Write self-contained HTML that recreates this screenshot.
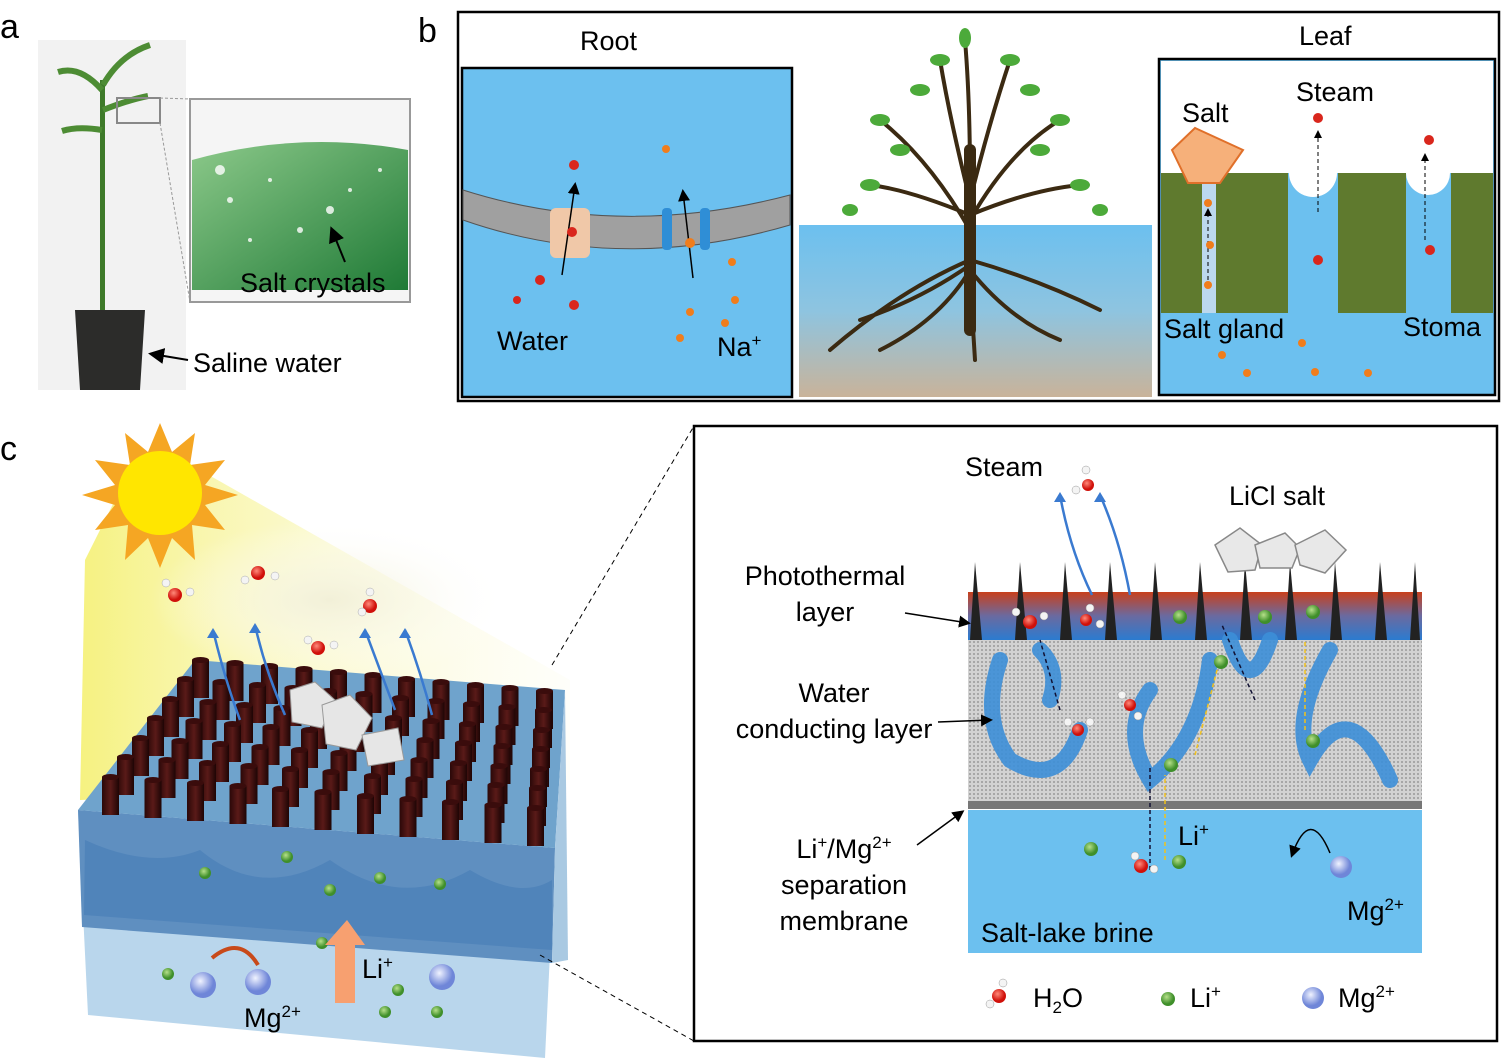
<!DOCTYPE html>
<html><head><meta charset="utf-8"><style>
body{margin:0;background:#fff}
svg{display:block;font-family:"Liberation Sans",Arial,sans-serif}
</style></head><body>
<svg width="1501" height="1058" viewBox="0 0 1501 1058" xmlns="http://www.w3.org/2000/svg">
<defs>
<linearGradient id="soil" x1="0" y1="0" x2="0" y2="1"><stop offset="0" stop-color="#6cc0ef"/><stop offset="0.5" stop-color="#8ec4e0"/><stop offset="1" stop-color="#c9b39a"/></linearGradient>
<linearGradient id="photo" x1="0" y1="0" x2="0" y2="1"><stop offset="0" stop-color="#c8401c"/><stop offset="0.5" stop-color="#6a6aa0"/><stop offset="1" stop-color="#2b7bd0"/></linearGradient>
<linearGradient id="sunray" x1="0" y1="0" x2="1" y2="0"><stop offset="0" stop-color="#f4ef6a"/><stop offset="1" stop-color="#fbfae0" stop-opacity="0.2"/></linearGradient>
<linearGradient id="leafg" x1="0" y1="0" x2="1" y2="1"><stop offset="0" stop-color="#8cc98a"/><stop offset="1" stop-color="#1f7a36"/></linearGradient>
<linearGradient id="pil" x1="0" y1="0" x2="1" y2="0"><stop offset="0" stop-color="#2a0808"/><stop offset="0.5" stop-color="#5a1a18"/><stop offset="1" stop-color="#1e0505"/></linearGradient>
<pattern id="dots" width="4" height="4" patternUnits="userSpaceOnUse"><rect width="4" height="4" fill="#d2d2d2"/><circle cx="2" cy="2" r="1" fill="#9a9a9a"/></pattern>
<marker id="ar" markerWidth="8" markerHeight="8" refX="6" refY="4" orient="auto"><path d="M0,0 L8,4 L0,8 z" fill="#000"/></marker>
<radialGradient id="mg" cx="0.4" cy="0.35"><stop offset="0" stop-color="#f0f3ff"/><stop offset="1" stop-color="#6f86d8"/></radialGradient>
<radialGradient id="li" cx="0.4" cy="0.35"><stop offset="0" stop-color="#b6e08a"/><stop offset="1" stop-color="#3f8f2a"/></radialGradient>
<radialGradient id="h2o" cx="0.4" cy="0.35"><stop offset="0" stop-color="#ff8a7a"/><stop offset="1" stop-color="#d0100a"/></radialGradient>
<radialGradient id="glow" cx="0.5" cy="0.5" r="0.5"><stop offset="0" stop-color="#f2f0d8"/><stop offset="1" stop-color="#fff" stop-opacity="0"/></radialGradient>
<g id="p"><rect x="0" y="0" width="17" height="38" fill="url(#pil)"/><ellipse cx="8.5" cy="0" rx="8.5" ry="3" fill="#3a0c0c"/></g>
</defs>

<!-- panel a -->
<text x="0" y="38" font-size="34">a</text>
<rect x="38" y="40" width="148" height="350" fill="#f2f2f2"/>
<rect x="100" y="80" width="5" height="235" fill="#3e7a2a"/>
<path d="M102,90 Q80,65 58,72 M103,110 Q128,100 148,96 M102,130 Q78,126 62,131 M103,85 Q120,55 150,45" stroke="#4d8c34" stroke-width="6" fill="none"/>
<path d="M75,310 L145,310 L140,390 L80,390 Z" fill="#2c2c2a"/>
<rect x="117" y="98" width="43" height="25" fill="none" stroke="#888" stroke-width="2"/>
<line x1="160" y1="98" x2="190" y2="99" stroke="#999" stroke-dasharray="3,2"/>
<line x1="160" y1="123" x2="190" y2="302" stroke="#999" stroke-dasharray="3,2"/>
<rect x="190" y="99" width="220" height="203" fill="#f5f5f5" stroke="#999" stroke-width="2"/>
<path d="M192,160 Q300,130 408,150 L408,290 L192,290 Z" fill="url(#leafg)"/>
<g fill="#fff" opacity="0.8"><circle cx="230" cy="200" r="3"/><circle cx="270" cy="180" r="2"/><circle cx="300" cy="230" r="3"/><circle cx="350" cy="190" r="2"/><circle cx="330" cy="210" r="4"/><circle cx="380" cy="170" r="2"/><circle cx="250" cy="240" r="2"/><circle cx="220" cy="170" r="5"/></g>
<line x1="345" y1="262" x2="332" y2="230" stroke="#000" stroke-width="2" marker-end="url(#ar)"/>
<text x="240" y="292" font-size="27">Salt crystals</text>
<line x1="188" y1="360" x2="152" y2="354" stroke="#000" stroke-width="2" marker-end="url(#ar)"/>
<text x="193" y="372" font-size="27">Saline water</text>

<!-- panel b -->
<text x="418" y="42" font-size="34">b</text>
<rect x="458" y="12" width="1041" height="389" fill="none" stroke="#000" stroke-width="2.5"/>
<text x="580" y="50" font-size="27">Root</text>
<rect x="462" y="68" width="330" height="329" fill="#6cc0ef" stroke="#000" stroke-width="2.5"/>
<path d="M463,190 Q620,240 790,195 L790,225 Q620,275 463,220 Z" fill="#a0a0a0" stroke="#555"/>
<rect x="550" y="208" width="40" height="50" rx="6" fill="#f0c8a8"/>
<rect x="662" y="208" width="10" height="42" rx="4" fill="#2f8ed6"/><rect x="700" y="208" width="10" height="42" rx="4" fill="#2f8ed6"/>
<line x1="562" y1="275" x2="575" y2="185" stroke="#000" stroke-width="1.5" marker-end="url(#ar)"/>
<line x1="693" y1="278" x2="683" y2="192" stroke="#000" stroke-width="1.5" marker-end="url(#ar)"/>
<g fill="#d9261c"><circle cx="574" cy="165" r="5"/><circle cx="572" cy="232" r="5"/><circle cx="540" cy="280" r="5"/><circle cx="517" cy="300" r="4"/><circle cx="574" cy="305" r="5"/></g>
<g fill="#f07d1c"><circle cx="666" cy="149" r="4"/><circle cx="690" cy="243" r="5"/><circle cx="732" cy="262" r="4"/><circle cx="735" cy="300" r="4"/><circle cx="690" cy="312" r="4"/><circle cx="725" cy="323" r="4"/><circle cx="680" cy="338" r="4"/></g>
<text x="497" y="350" font-size="27">Water</text>
<text x="717" y="356" font-size="27">Na<tspan font-size="17" dy="-10">+</tspan></text>
<rect x="799" y="225" width="353" height="172" fill="url(#soil)"/>
<g stroke="#3b2a12" fill="none" stroke-linecap="round">
<path d="M970,330 L970,150" stroke-width="12"/>
<path d="M970,230 Q930,160 880,120 M970,220 Q1010,150 1060,120 M970,200 Q950,120 940,60 M970,200 Q990,120 1010,60 M970,180 Q970,100 965,40 M970,215 Q910,190 870,185 M970,215 Q1030,190 1080,185" stroke-width="4"/>
<path d="M970,260 Q900,290 830,350 M970,260 Q1040,280 1100,310 M970,270 Q940,320 880,350 M970,270 Q1010,320 1060,340 M970,280 L975,360 M970,265 Q920,300 860,320" stroke-width="4"/>
</g>
<g fill="#4caa3a"><ellipse cx="880" cy="120" rx="10" ry="6"/><ellipse cx="1060" cy="120" rx="10" ry="6"/><ellipse cx="940" cy="60" rx="10" ry="6"/><ellipse cx="1010" cy="60" rx="10" ry="6"/><ellipse cx="965" cy="38" rx="6" ry="10"/><ellipse cx="900" cy="150" rx="10" ry="6"/><ellipse cx="1040" cy="150" rx="10" ry="6"/><ellipse cx="870" cy="185" rx="10" ry="6"/><ellipse cx="1080" cy="185" rx="10" ry="6"/><ellipse cx="920" cy="90" rx="10" ry="6"/><ellipse cx="1030" cy="90" rx="10" ry="6"/><ellipse cx="850" cy="210" rx="8" ry="6"/><ellipse cx="1100" cy="210" rx="8" ry="6"/></g>
<text x="1299" y="45" font-size="27">Leaf</text>
<rect x="1159" y="59" width="336" height="336" fill="#6cc0ef" stroke="#000" stroke-width="2.5"/>
<rect x="1161" y="61" width="332" height="112" fill="#fff"/>
<rect x="1161" y="173" width="127" height="140" fill="#5f7a2e"/>
<rect x="1338" y="173" width="68" height="140" fill="#5f7a2e"/>
<rect x="1451" y="173" width="42" height="140" fill="#5f7a2e"/>
<rect x="1202" y="173" width="14" height="140" fill="#bcd8ee"/>
<circle cx="1313" cy="173" r="24" fill="#fff"/><circle cx="1428" cy="173" r="22" fill="#fff"/>
<path d="M1172,150 L1195,128 L1243,150 L1220,183 L1188,183 Z" fill="#f6b07a" stroke="#e0702a" stroke-width="2"/>
<line x1="1208" y1="280" x2="1208" y2="210" stroke="#000" stroke-dasharray="4,3" marker-end="url(#ar)"/>
<line x1="1318" y1="212" x2="1318" y2="132" stroke="#000" stroke-dasharray="4,3" marker-end="url(#ar)"/>
<line x1="1425" y1="240" x2="1425" y2="155" stroke="#000" stroke-dasharray="4,3" marker-end="url(#ar)"/>
<g fill="#d9261c"><circle cx="1318" cy="118" r="5"/><circle cx="1429" cy="140" r="5"/><circle cx="1318" cy="260" r="5"/><circle cx="1430" cy="250" r="5"/></g>
<g fill="#f07d1c"><circle cx="1208" cy="203" r="4"/><circle cx="1210" cy="245" r="4"/><circle cx="1208" cy="285" r="4"/><circle cx="1302" cy="343" r="4"/><circle cx="1222" cy="355" r="4"/><circle cx="1247" cy="373" r="4"/><circle cx="1315" cy="372" r="4"/><circle cx="1368" cy="373" r="4"/></g>
<text x="1182" y="122" font-size="27">Salt</text>
<text x="1296" y="101" font-size="27">Steam</text>
<text x="1164" y="338" font-size="27">Salt gland</text>
<text x="1403" y="336" font-size="27">Stoma</text>

<!-- panel c left -->
<text x="0" y="460" font-size="34">c</text>
<path d="M130,470 L200,470 L570,680 L570,780 L80,800 L85,560 Z" fill="url(#sunray)" opacity="0.85"/>
<ellipse cx="330" cy="600" rx="180" ry="80" fill="url(#glow)"/>
<polygon points="160,423 172,452 195,433 190,465 225,460 205,485 238,495 205,505 225,530 192,525 195,560 172,538 160,568 148,538 125,560 128,525 95,530 115,505 82,495 115,485 95,460 130,465 125,433 148,452" fill="#f5a623"/>
<circle cx="160" cy="493" r="42" fill="#ffe600"/>
<!-- block -->
<path d="M78,810 L555,848 L545,1058 L88,1015 Z" fill="#b9d6ec"/>
<path d="M78,810 L555,848 L552,963 L82,927 Z" fill="#5f8fc0"/>
<path d="M78,810 L195,660 L565,690 L555,848 Z" fill="#6fa3cc"/>
<path d="M555,848 L565,690 L568,960 L552,963 Z" fill="#a9c9e2"/>
<path d="M85,840 Q150,870 200,850 Q260,900 330,860 Q400,910 470,870 Q520,900 552,880 L552,950 L84,915 Z" fill="#4a7fb8" opacity="0.7"/>
<!-- pillars: back rows first -->
<g>
<use href="#p" x="192" y="660"/><use href="#p" x="226.5" y="663"/><use href="#p" x="261" y="666"/><use href="#p" x="295.5" y="669"/><use href="#p" x="330" y="672"/><use href="#p" x="364.5" y="675"/><use href="#p" x="398" y="679"/><use href="#p" x="432.5" y="682"/><use href="#p" x="467" y="685"/><use href="#p" x="501.5" y="688"/><use href="#p" x="536" y="691"/>
<use href="#p" x="177" y="679"/><use href="#p" x="212.5" y="682"/><use href="#p" x="249" y="685"/><use href="#p" x="284.5" y="688"/><use href="#p" x="320" y="691"/><use href="#p" x="355.5" y="694"/><use href="#p" x="392" y="698"/><use href="#p" x="427.5" y="701"/><use href="#p" x="463" y="704"/><use href="#p" x="498.5" y="707"/><use href="#p" x="535" y="710"/>
<use href="#p" x="162" y="699"/><use href="#p" x="199.5" y="702"/><use href="#p" x="236" y="705"/><use href="#p" x="273.5" y="708"/><use href="#p" x="310" y="711"/><use href="#p" x="347.5" y="714"/><use href="#p" x="385" y="718"/><use href="#p" x="422.5" y="721"/><use href="#p" x="459" y="724"/><use href="#p" x="495.5" y="727"/><use href="#p" x="533" y="730"/>
<use href="#p" x="147" y="718"/><use href="#p" x="185.5" y="721"/><use href="#p" x="224" y="724"/><use href="#p" x="262.5" y="727"/><use href="#p" x="301" y="730"/><use href="#p" x="339.5" y="733"/><use href="#p" x="378" y="737"/><use href="#p" x="416.5" y="740"/><use href="#p" x="455" y="743"/><use href="#p" x="493.5" y="746"/><use href="#p" x="532" y="749"/>
<use href="#p" x="132" y="738"/><use href="#p" x="171.5" y="741"/><use href="#p" x="212" y="744"/><use href="#p" x="251.5" y="747"/><use href="#p" x="291" y="750"/><use href="#p" x="330.5" y="753"/><use href="#p" x="371" y="757"/><use href="#p" x="410.5" y="760"/><use href="#p" x="450" y="763"/><use href="#p" x="490.5" y="766"/><use href="#p" x="530" y="769"/>
<use href="#p" x="117" y="757"/><use href="#p" x="158.5" y="760"/><use href="#p" x="199" y="763"/><use href="#p" x="240.5" y="766"/><use href="#p" x="282" y="769"/><use href="#p" x="322.5" y="772"/><use href="#p" x="364" y="776"/><use href="#p" x="405.5" y="779"/><use href="#p" x="446" y="782"/><use href="#p" x="487.5" y="785"/><use href="#p" x="529" y="788"/>
</g>
<g fill="#e6e6e6" stroke="#999"><path d="M290,690 L315,682 L335,700 L322,728 L292,722Z"/><path d="M322,705 L350,695 L372,718 L356,750 L326,744Z"/><path d="M362,735 L398,728 L404,760 L368,766Z"/></g>
<g>
<use href="#p" x="102" y="777"/><use href="#p" x="144.5" y="780"/><use href="#p" x="187" y="783"/><use href="#p" x="229.5" y="786"/><use href="#p" x="272" y="789"/><use href="#p" x="314.5" y="792"/><use href="#p" x="357" y="796"/><use href="#p" x="399.5" y="799"/><use href="#p" x="442" y="802"/><use href="#p" x="484.5" y="805"/><use href="#p" x="527" y="808"/>
</g>
<g stroke="#3a7ad0" stroke-width="2.5" fill="none"><path d="M240,720 Q225,680 213,630"/><path d="M285,715 Q265,670 255,625"/><path d="M395,710 Q380,670 365,630"/><path d="M432,715 Q420,670 405,630"/></g>
<g fill="#3a7ad0"><path d="M213,628 l-6,10 l12,0z"/><path d="M255,623 l-6,10 l12,0z"/><path d="M365,628 l-6,10 l12,0z"/><path d="M405,628 l-6,10 l12,0z"/></g>
<g fill="url(#h2o)"><circle cx="175" cy="595" r="7"/><circle cx="258" cy="573" r="7"/><circle cx="370" cy="606" r="7"/><circle cx="318" cy="648" r="7"/></g>
<g fill="#f4f4f4" stroke="#aaa" stroke-width="0.5"><circle cx="166" cy="583" r="4"/><circle cx="190" cy="592" r="4"/><circle cx="245" cy="580" r="4"/><circle cx="275" cy="576" r="4"/><circle cx="370" cy="592" r="4"/><circle cx="362" cy="612" r="4"/><circle cx="308" cy="640" r="4"/><circle cx="334" cy="645" r="4"/></g>
<g fill="url(#li)"><circle cx="205" cy="873" r="6"/><circle cx="287" cy="857" r="6"/><circle cx="380" cy="878" r="6"/><circle cx="330" cy="890" r="6"/><circle cx="168" cy="974" r="6"/><circle cx="322" cy="943" r="6"/><circle cx="398" cy="990" r="6"/><circle cx="385" cy="1012" r="6"/><circle cx="437" cy="1012" r="6"/><circle cx="440" cy="884" r="6"/></g>
<g fill="url(#mg)"><circle cx="203" cy="985" r="13"/><circle cx="258" cy="982" r="13"/><circle cx="442" cy="977" r="13"/></g>
<path d="M335,1003 L335,945 L325,945 L347,920 L365,945 L355,945 L355,1003 Z" fill="#f7a070"/>
<path d="M258,965 Q240,935 212,958" stroke="#c84a1a" stroke-width="4" fill="none"/>
<text x="362" y="978" font-size="27">Li<tspan font-size="17" dy="-10">+</tspan></text>
<text x="244" y="1027" font-size="27">Mg<tspan font-size="17" dy="-10">2+</tspan></text>
<line x1="552" y1="665" x2="694" y2="426" stroke="#000" stroke-dasharray="5,4"/>
<line x1="540" y1="955" x2="694" y2="1041" stroke="#000" stroke-dasharray="5,4"/>

<!-- panel c right -->
<rect x="694" y="426" width="803" height="615" fill="#fff" stroke="#000" stroke-width="2.5"/>
<rect x="968" y="810" width="454" height="143" fill="#6cc0ef"/>
<rect x="968" y="640" width="454" height="163" fill="url(#dots)"/>
<rect x="968" y="801" width="454" height="8" fill="#777"/>
<rect x="968" y="592" width="454" height="48" fill="url(#photo)"/>
<g fill="#222">
<path d="M970,640 L975,562 L982,640Z"/><path d="M1015,640 L1020,562 L1027,640Z"/><path d="M1060,640 L1065,562 L1072,640Z"/><path d="M1105,640 L1110,562 L1117,640Z"/><path d="M1150,640 L1155,562 L1162,640Z"/><path d="M1195,640 L1200,562 L1207,640Z"/><path d="M1240,640 L1245,562 L1252,640Z"/><path d="M1285,640 L1290,562 L1297,640Z"/><path d="M1330,640 L1335,562 L1342,640Z"/><path d="M1375,640 L1380,562 L1387,640Z"/><path d="M1410,640 L1415,562 L1420,640Z"/>
</g>
<g stroke="#3d8fd8" stroke-width="16" fill="none" stroke-linecap="round" opacity="0.9">
<path d="M1000,660 Q980,720 1010,760 Q1060,790 1080,730"/>
<path d="M1150,690 Q1120,730 1150,780 Q1200,740 1210,660"/>
<path d="M1230,640 Q1250,700 1270,640"/>
<path d="M1330,650 Q1290,720 1310,760 Q1350,690 1390,780"/>
<path d="M1040,650 Q1060,670 1050,700"/>
</g>
<g stroke="#3a7ad0" stroke-width="2.5" fill="none"><path d="M1092,595 Q1070,550 1060,495"/><path d="M1130,595 Q1120,540 1100,495"/></g>
<g fill="#3a7ad0"><path d="M1060,492 l-6,10 l12,0z"/><path d="M1100,492 l-6,10 l12,0z"/></g>
<g fill="#e8e8e8" stroke="#888" stroke-width="1.5"><path d="M1215,545 L1240,528 L1262,545 L1255,570 L1228,572Z"/><path d="M1255,545 L1285,533 L1300,548 L1292,568 L1260,568Z"/><path d="M1295,545 L1325,530 L1346,550 L1325,573 L1300,565Z"/></g>
<g stroke="#113" stroke-width="1.5" stroke-dasharray="4,3" fill="none"><line x1="1060" y1="710" x2="1040" y2="640"/><line x1="1150" y1="870" x2="1150" y2="765"/><line x1="1255" y1="700" x2="1222" y2="625"/></g>
<g stroke="#f2c21c" stroke-width="1.5" stroke-dasharray="4,3" fill="none"><line x1="1165" y1="860" x2="1165" y2="775"/><line x1="1195" y1="755" x2="1217" y2="670"/><line x1="1305" y1="730" x2="1305" y2="640"/></g>
<g fill="url(#h2o)"><circle cx="1088" cy="485" r="6"/><circle cx="1030" cy="622" r="7"/><circle cx="1086" cy="620" r="6"/><circle cx="1078" cy="730" r="6"/><circle cx="1130" cy="705" r="6"/><circle cx="1141" cy="866" r="7"/><circle cx="999" cy="996" r="7"/></g>
<g fill="#f4f4f4" stroke="#999" stroke-width="0.5"><circle cx="1086" cy="470" r="4"/><circle cx="1076" cy="490" r="4"/><circle cx="1016" cy="612" r="4"/><circle cx="1044" cy="616" r="4"/><circle cx="1090" cy="608" r="4"/><circle cx="1100" cy="624" r="4"/><circle cx="1068" cy="722" r="4"/><circle cx="1090" cy="722" r="4"/><circle cx="1122" cy="695" r="4"/><circle cx="1138" cy="716" r="4"/><circle cx="1135" cy="856" r="4"/><circle cx="1154" cy="869" r="4"/><circle cx="1003" cy="983" r="4"/><circle cx="990" cy="1004" r="4"/></g>
<g fill="url(#li)"><circle cx="1180" cy="617" r="7"/><circle cx="1265" cy="617" r="7"/><circle cx="1313" cy="612" r="7"/><circle cx="1221" cy="662" r="7"/><circle cx="1313" cy="741" r="7"/><circle cx="1171" cy="765" r="7"/><circle cx="1091" cy="849" r="7"/><circle cx="1179" cy="862" r="7"/><circle cx="1168" cy="999" r="7"/></g>
<g fill="url(#mg)"><circle cx="1341" cy="867" r="11"/><circle cx="1313" cy="998" r="11"/></g>
<path d="M1330,853 Q1310,805 1292,855" stroke="#000" stroke-width="1.5" fill="none" marker-end="url(#ar)"/>
<line x1="905" y1="613" x2="968" y2="623" stroke="#000" stroke-width="1.5" marker-end="url(#ar)"/>
<line x1="938" y1="722" x2="990" y2="720" stroke="#000" stroke-width="1.5" marker-end="url(#ar)"/>
<line x1="917" y1="845" x2="962" y2="812" stroke="#000" stroke-width="1.5" marker-end="url(#ar)"/>
<g font-size="27" text-anchor="middle">
<text x="1004" y="476">Steam</text>
<text x="1277" y="505">LiCl salt</text>
<text x="825" y="585">Photothermal</text><text x="825" y="621">layer</text>
<text x="834" y="702">Water</text><text x="834" y="738">conducting layer</text>
<text x="844" y="858">Li<tspan font-size="17" dy="-10">+</tspan><tspan dy="10">/Mg</tspan><tspan font-size="17" dy="-10">2+</tspan></text>
<text x="844" y="894">separation</text><text x="844" y="930">membrane</text>
</g>
<text x="1178" y="845" font-size="27">Li<tspan font-size="17" dy="-10">+</tspan></text>
<text x="1347" y="920" font-size="27">Mg<tspan font-size="17" dy="-10">2+</tspan></text>
<text x="981" y="942" font-size="27">Salt-lake brine</text>
<text x="1033" y="1007" font-size="27">H<tspan font-size="17" dy="6">2</tspan><tspan dy="-6">O</tspan></text>
<text x="1190" y="1007" font-size="27">Li<tspan font-size="17" dy="-10">+</tspan></text>
<text x="1338" y="1007" font-size="27">Mg<tspan font-size="17" dy="-10">2+</tspan></text>
</svg>
</body></html>
